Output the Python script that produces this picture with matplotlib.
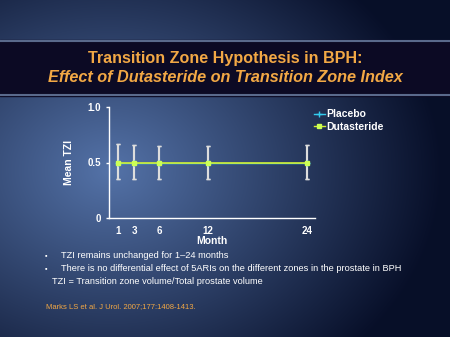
import numpy as np
import matplotlib
matplotlib.use('Agg')
import matplotlib.pyplot as plt
from matplotlib.lines import Line2D

plt.rcParams['font.family'] = ['Liberation Sans', 'DejaVu Sans']

# data
months = [1, 3, 6, 12, 24]
placebo = [0.50, 0.50, 0.50, 0.50, 0.50]
dutasteride = [0.50, 0.50, 0.50, 0.50, 0.50]
err_up = [0.17, 0.16, 0.15, 0.15, 0.16]
err_lo = [0.15, 0.15, 0.15, 0.15, 0.15]
yticks = [0, 0.5, 1.0]
ytick_labels = ['0', '0.5', '1.0']

title1 = 'Transition Zone Hypothesis in BPH:'
title2 = 'Effect of Dutasteride on Transition Zone Index'
bullets = ['TZI remains unchanged for 1\u201324 months',
           'There is no differential effect of 5ARIs on the different zones in the prostate in BPH']
note = 'TZI = Transition zone volume/Total prostate volume'
cite = 'Marks LS et al. J Urol. 2007;177:1408-1413.'

fig = plt.figure(figsize=(4.5, 3.37), dpi=100)

# background gradient
bg = fig.add_axes([0, 0, 1, 1])
h, w = 337, 450
yy, xx = np.mgrid[0:h, 0:w]
d = np.sqrt(((xx - 110) / 330.0) ** 2 + ((yy - 170) / 260.0) ** 2)
t = np.clip(d, 0, 1)
light = np.array([0.33, 0.45, 0.66])
dark = np.array([0.03, 0.06, 0.16])
img = light[None, None, :] * (1 - t[..., None]) + dark[None, None, :] * t[..., None]
bg.imshow(img, extent=[0, w, h, 0], aspect='auto')
# title band
bg.fill_between([0, w], 40, 96, color='#0c0a24')
bg.plot([0, w], [41, 41], color='#5a6a8c', lw=1.5)
bg.plot([0, w], [95, 95], color='#5a6a8c', lw=1.5)
bg.set_xlim(0, w)
bg.set_ylim(h, 0)
bg.set_axis_off()

fig.text(0.5, 1 - 58 / h, title1, color='#f2a845', fontsize=11.6, fontweight='bold',
         ha='center', va='center')
fig.text(0.5, 1 - 78 / h, title2, color='#f2a845', fontsize=11.7, fontweight='bold',
         style='italic', ha='center', va='center')

ax = fig.add_axes([109 / w, 1 - 218 / h, (315 - 109) / w, (218 - 107) / h])
ax.patch.set_alpha(0)
ax.errorbar(months, placebo, yerr=[err_lo, err_up], color='#33ccee', marker='+',
            markersize=4, lw=1, ecolor='#dddddd', elinewidth=1.5, capsize=1.5)
ax.errorbar(months, dutasteride, yerr=[err_lo, err_up], color='#d4f030', marker='s',
            markersize=3, markerfacecolor='#ccff55', markeredgecolor='#ccff55', lw=1.2,
            ecolor='#dddddd', elinewidth=1.5, capsize=1.5)
ax.set_xlim(-0.1, 25)
ax.set_ylim(0, 1)
ax.set_xticks(months)
ax.set_xticklabels([str(m) for m in months])
ax.set_yticks(yticks)
ax.set_yticklabels(ytick_labels)
for s in ['top', 'right']:
    ax.spines[s].set_visible(False)
for s in ['left', 'bottom']:
    ax.spines[s].set_color('white')
    ax.spines[s].set_linewidth(1)
ax.tick_params(colors='white', labelsize=7, length=2, width=1)
ax.tick_params(axis='x', length=0, pad=6)
for lab in ax.get_xticklabels() + ax.get_yticklabels():
    lab.set_fontweight('bold')
ax.set_xlabel('Month', color='white', fontsize=7.5, fontweight='bold', labelpad=0)
ax.set_ylabel('Mean TZI', color='white', fontsize=7.5, fontweight='bold', labelpad=10)

handles = [Line2D([], [], color='#33ccee', marker='+', markersize=4, lw=1),
           Line2D([], [], color='#d4f030', marker='s', markersize=2.5,
                  markerfacecolor='#ccff55', markeredgecolor='#ccff55', lw=1)]
leg = fig.legend(handles, ['Placebo', 'Dutasteride'], loc='upper left',
                 bbox_to_anchor=(310 / w, 1 - 105 / h), frameon=False,
                 fontsize=7.5, handlelength=1, handletextpad=0.2, labelspacing=0.25,
                 borderaxespad=0)
for txt in leg.get_texts():
    txt.set_color('white')
    txt.set_fontweight('bold')

for i, b in enumerate(bullets):
    y = 1 - (256 + 12.5 * i) / h
    fig.text(45 / w, y, '\u25aa', color='white', fontsize=5, va='center')
    fig.text(61 / w, y, b, color='white', fontsize=6.7, va='center')
fig.text(52 / w, 1 - 282 / h, note, color='white', fontsize=6.7, va='center')
fig.text(46 / w, 1 - 307 / h, cite, color='#f2a845', fontsize=5.5, va='center')

fig.savefig('out.png', dpi=100)
